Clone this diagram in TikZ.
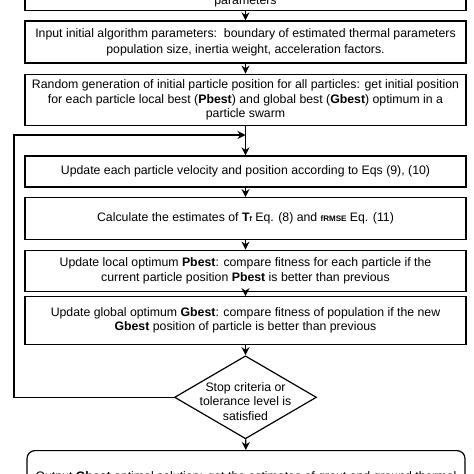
\documentclass[tikz,border=0pt]{standalone}
\usepackage{fontspec}
\setmainfont{Liberation Sans}
\usetikzlibrary{shapes.geometric,arrows.meta}
\begin{document}
\begin{tikzpicture}[x=1pt,y=-1pt,
  every node/.style={font=\fontsize{12.3}{14.5}\selectfont},
  stepbox/.style={draw, line width=1.3pt, rectangle, minimum width=441pt, align=center, inner sep=0pt},
  decision/.style={draw, line width=1.2pt, diamond, minimum width=142pt, minimum height=83pt, inner sep=0pt},
  flow/.style={line width=1.2pt, -{Stealth[length=8pt,width=8pt]}}]
\useasboundingbox (0,0) rectangle (474,474);
\clip (0,0) rectangle (474,474);
\fill[white] (0,0) rectangle (474,474);
\node[stepbox, anchor=south, inner ysep=3pt, text height=40pt, text depth=2.5pt] (b1) at (245.5,11) {parameters};
\node[stepbox, minimum height=42pt] (b2) at (245.5,42) {Input initial algorithm parameters:\ \ boundary of estimated thermal parameters\\[1.5pt]population size, inertia weight, acceleration factors.};
\node[stepbox, minimum height=51.5pt] (b3) at (245.5,100) {Random generation of initial particle position for all particles: get initial position\\for each particle local best (\textbf{Pbest}) and global best (\textbf{Gbest}) optimum in a\\particle swarm};
\node[stepbox, minimum height=31pt] (b4) at (245.5,171.5) {Update each particle velocity and position according to Eqs (9), (10)};
\node[stepbox, minimum height=41.5pt] (b5) at (245.5,218.5) {Calculate the estimates of \textbf{T}{\scriptsize\textbf{f}} Eq. (8) and {\footnotesize\textbf{fRMSE}} Eq. (11)};
\node[stepbox, minimum height=41.5pt] (b6) at (245.5,271) {Update local optimum \textbf{Pbest}: compare fitness for each particle if the\\current particle position \textbf{Pbest} is better than previous};
\node[stepbox, minimum height=47.5pt] (b7) at (245.5,320.5) {Update global optimum \textbf{Gbest}: compare fitness of population if the new\\\textbf{Gbest} position of particle is better than previous};
\node[decision, label={[align=center, yshift=-4pt, font=\fontsize{12.3}{14.5}\selectfont]center:{Stop criteria or\\tolerance level is\\satisfied}}] (d) at (245.5,397.3) {};
\node[draw, line width=1.2pt, rounded corners=8pt, minimum width=438pt, inner xsep=0pt, inner ysep=20.5pt, align=center, anchor=north] (b8) at (246,450) {Output \textbf{Gbest} optimal solution: get the estimates of grout and ground thermal};
\coordinate (j) at (245.5,135);
\coordinate (l1) at (14,397.3);
\coordinate (l2) at (14,135);
\draw[flow] (b1) -- (b2);
\draw[flow] (b2) -- (b3);
\draw[flow] (b3) -- (b4);
\draw[flow] (b4) -- (b5);
\draw[flow] (b5) -- (b6);
\draw[flow] (b6) -- (b7);
\draw[flow] (b7) -- (d);
\draw[flow] (d) -- (b8);
\draw[flow] (d.west) -- (l1) -- (l2) -- (j);
\end{tikzpicture}
\end{document}
